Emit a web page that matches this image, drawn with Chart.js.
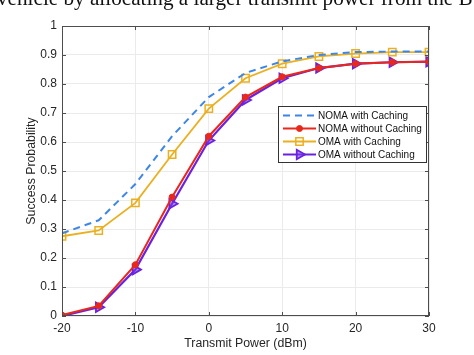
<!DOCTYPE html>
<html><head><meta charset="utf-8">
<script src="https://cdn.jsdelivr.net/npm/chart.js@4.4.0/dist/chart.umd.min.js"></script>
<style>
html,body{margin:0;padding:0;background:#fff;overflow:hidden;}
#wrap{position:relative;width:474px;height:355px;}
#cap{position:absolute;left:-3px;top:-12px;font-family:"Liberation Serif","DejaVu Serif",serif;font-size:21.2px;line-height:20px;white-space:nowrap;color:#111;}
canvas{position:absolute;left:0;top:0;}
</style></head>
<body><div id="wrap"><canvas id="c" width="474" height="355"></canvas>
<div id="cap">vehicle by allocating a larger transmit power from the B</div></div>
<script>
const powers = [-20,-15,-10,-5,0,5,10,15,20,25,30];
const nomaCache   = [0.285,0.330,0.455,0.620,0.755,0.838,0.878,0.900,0.910,0.912,0.912];
const nomaNoCache = [0.003,0.035,0.177,0.410,0.620,0.755,0.825,0.855,0.870,0.875,0.877];
const omaCache    = [0.275,0.295,0.390,0.557,0.715,0.820,0.870,0.895,0.905,0.910,0.910];
const omaNoCache  = [0.000,0.030,0.160,0.387,0.605,0.745,0.820,0.855,0.870,0.875,0.877];
const seriesLabels = ["NOMA with Caching","NOMA without Caching","OMA with Caching","OMA without Caching"];
const xTicks = [-20,-10,0,10,20,30];
const yTicks = [0,0.1,0.2,0.3,0.4,0.5,0.6,0.7,0.8,0.9,1];

const pts = arr => arr.map((v,i)=>({x:powers[i],y:v}));
const font = "Liberation Sans, Arial, sans-serif";

const boxPlugin = {
  id:'box',
  afterDatasetsDraw(chart){
    const {ctx, chartArea:a, scales:{x,y}} = chart;
    ctx.save();
    ctx.strokeStyle='#4d4d4d'; ctx.lineWidth=1;
    ctx.strokeRect(a.left+0.5,a.top+0.5,a.right-a.left-1,a.bottom-a.top-1);
    ctx.beginPath();
    xTicks.forEach(t=>{const px=Math.round(x.getPixelForValue(t))+0.5;
      ctx.moveTo(px,a.bottom);ctx.lineTo(px,a.bottom-4);ctx.moveTo(px,a.top);ctx.lineTo(px,a.top+4);});
    yTicks.forEach(t=>{const py=Math.round(y.getPixelForValue(t))+0.5;
      ctx.moveTo(a.left,py);ctx.lineTo(a.left+4,py);ctx.moveTo(a.right,py);ctx.lineTo(a.right-4,py);});
    ctx.stroke();
    // legend
    const L=278,T=106,W=148,H=56;
    ctx.fillStyle='#fff'; ctx.fillRect(L,T,W,H);
    ctx.strokeStyle='#333'; ctx.lineWidth=1; ctx.strokeRect(L+0.5,T+0.5,W,H);
    chart.data.datasets.forEach((ds,i)=>{
      const cy=T+9.5+i*13;
      ctx.strokeStyle=ds.borderColor; ctx.lineWidth=ds.borderWidth;
      ctx.setLineDash(ds.borderDash||[]);
      ctx.beginPath(); ctx.moveTo(L+5,cy); ctx.lineTo(L+38,cy); ctx.stroke();
      ctx.setLineDash([]);
      if(ds.pointRadius>0){
        ctx.fillStyle=ds.pointBackgroundColor; ctx.strokeStyle=ds.pointBorderColor;
        ctx.lineWidth=ds.pointBorderWidth;
        Chart.helpers.drawPoint(ctx,{pointStyle:ds.pointStyle,rotation:ds.pointRotation||0,radius:ds.pointRadius,borderWidth:ds.pointBorderWidth},L+21.5,cy);
      }
      ctx.fillStyle='#111'; ctx.font='10px '+font; ctx.textBaseline='middle'; ctx.textAlign='left';
      ctx.fillText(ds.label,L+40,cy+0.5);
    });
    ctx.restore();
  }
};

new Chart(document.getElementById('c'),{
  type:'line',
  data:{datasets:[
    {label:seriesLabels[0],data:pts(nomaCache),borderColor:'#3d86e6',borderWidth:2,borderDash:[7,5],pointRadius:0,fill:false},
    {label:seriesLabels[1],data:pts(nomaNoCache),borderColor:'#e8281a',backgroundColor:'#e8281a',borderWidth:2,pointStyle:'circle',pointRadius:3,pointBackgroundColor:'#e8281a',pointBorderColor:'#e8281a',pointBorderWidth:1},
    {label:seriesLabels[2],data:pts(omaCache),borderColor:'#ebb020',borderWidth:1.8,pointStyle:'rect',pointRadius:5.2,pointBackgroundColor:'rgba(255,255,255,0)',pointBorderColor:'#ebb020',pointBorderWidth:1.5},
    {label:seriesLabels[3],data:pts(omaNoCache),borderColor:'#6a22e0',borderWidth:2.2,pointStyle:'triangle',pointRotation:90,pointRadius:5.5,pointBackgroundColor:'rgba(120,60,235,0.55)',pointBorderColor:'#6a22e0',pointBorderWidth:1.8}
  ]},
  options:{
    responsive:false,animation:false,
    layout:{padding:{top:26,right:45,left:0,bottom:0}},
    plugins:{legend:{display:false},tooltip:{enabled:false}},
    elements:{line:{tension:0}},
    scales:{
      x:{type:'linear',min:-20,max:30,
        afterBuildTicks:s=>{s.ticks=xTicks.map(v=>({value:v}));},
        afterFit:s=>{s.height=39;},
        grid:{color:'#ebebeb',drawTicks:false},border:{display:false},
        ticks:{padding:5,color:'#262626',font:{family:font,size:12}},
        title:{display:true,text:'Transmit Power (dBm)',color:'#262626',font:{family:font,size:12.3},padding:{top:0,bottom:4}}},
      y:{type:'linear',min:0,max:1,
        afterBuildTicks:s=>{s.ticks=yTicks.map(v=>({value:v}));},
        afterFit:s=>{s.width=62;},
        grid:{color:'#ebebeb',drawTicks:false},border:{display:false},
        ticks:{padding:5,color:'#262626',font:{family:font,size:12},callback:v=>String(Math.round(v*10)/10)},
        title:{display:true,text:'Success Probability',color:'#262626',font:{family:font,size:12.3},padding:{top:24,bottom:0}}}
    }
  },
  plugins:[boxPlugin]
});
</script></body></html>
